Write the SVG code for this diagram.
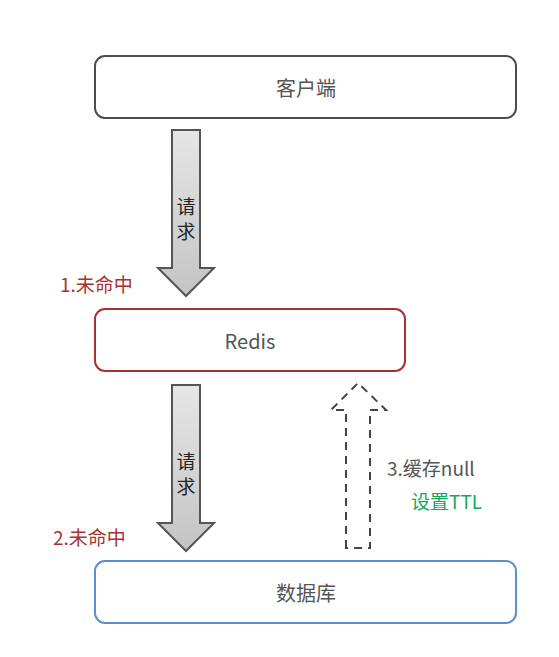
<svg xmlns="http://www.w3.org/2000/svg" width="559" height="657" viewBox="0 0 559 657">
<defs>
<linearGradient id="g" x1="0" y1="0" x2="0" y2="1">
<stop offset="0" stop-color="#e6e6e6"/>
<stop offset="1" stop-color="#c4c4c4"/>
</linearGradient>
<style>
.box{fill:#fff;stroke-width:2}
.t{font-family:"Noto Sans CJK SC","Noto Sans",sans-serif;font-size:20px;text-anchor:middle;dominant-baseline:central}
.v{font-family:"Noto Sans CJK SC","Noto Sans",sans-serif;font-size:19px;text-anchor:middle;dominant-baseline:central}
.l{font-family:"Noto Sans CJK SC","Noto Sans",sans-serif;font-size:19px;dominant-baseline:central}
.fat{fill:url(#g);stroke:#555;stroke-width:2}
</style>
</defs>
<rect width="559" height="657" fill="#fff"/>
<g id="client"><rect class="box" x="95" y="56" width="421" height="62" rx="10" stroke="#4d4d4d"/><text class="t" x="306" y="87" fill="#555">客户端</text></g>
<g id="redis"><rect class="box" x="95" y="309" width="310" height="62" rx="10" stroke="#a83232"/><text class="t" x="250" y="340" fill="#555">Redis</text></g>
<g id="db"><rect class="box" x="95" y="561" width="421" height="62" rx="10" stroke="#5b8fd0"/><text class="t" x="306" y="592" fill="#555">数据库</text></g>
<g id="connectors">
<path class="fat" d="M172 130 H200 V268 H214 L186 296 L158 268 H172 Z"/>
<text class="v" x="186" y="205" fill="#222">请</text>
<text class="v" x="186" y="230" fill="#222">求</text>
<path class="fat" d="M172 385 H200 V523 H214 L186 551 L158 523 H172 Z"/>
<text class="v" x="186" y="460" fill="#222">请</text>
<text class="v" x="186" y="485" fill="#222">求</text>
<path d="M346 548 V410 H331 L358 383 L386 410 H370 V548 Z" fill="none" stroke="#444" stroke-width="2" stroke-dasharray="8,6"/>
</g>
<text class="l" x="60" y="283" fill="#a83232">1.未命中</text>
<text class="l" x="53" y="536" fill="#a83232">2.未命中</text>
<text class="l" x="387" y="467" fill="#555">3.缓存null</text>
<text class="l" x="411" y="500" fill="#12a85a">设置TTL</text>
</svg>
